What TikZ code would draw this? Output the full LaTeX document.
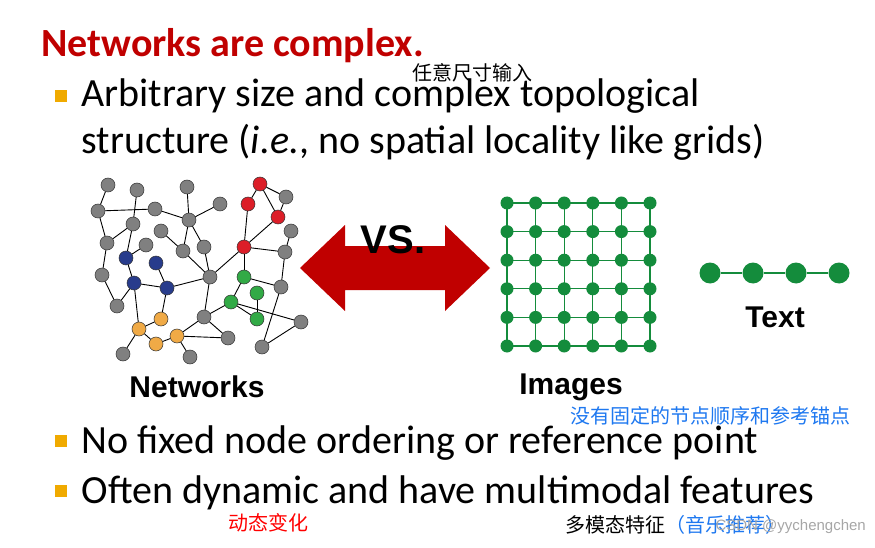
\documentclass[tikz,border=0pt]{standalone}
\usepackage{fontspec}
\setmainfont{Carlito}
\newfontfamily\arial{Liberation Sans}
\newfontfamily\cjk{Noto Sans CJK SC}
\definecolor{ttlred}{RGB}{192,0,0}
\definecolor{bul}{RGB}{240,170,0}
\definecolor{ngray}{RGB}{128,128,128}
\definecolor{nred}{RGB}{220,30,40}
\definecolor{nblue}{RGB}{40,60,140}
\definecolor{ngreen}{RGB}{50,170,70}
\definecolor{norange}{RGB}{240,170,70}
\definecolor{igreen}{RGB}{20,140,60}
\definecolor{cjkblue}{RGB}{30,120,240}
\begin{document}
\begin{tikzpicture}[x=1pt,y=-1pt,
  n/.style={circle,draw=black!80,line width=0.5pt,inner sep=0pt,minimum size=14pt,fill=ngray},
  r/.style={n,fill=nred}, b/.style={n,fill=nblue}, gr/.style={n,fill=ngreen}, o/.style={n,fill=norange},
  ig/.style={circle,fill=igreen,inner sep=0pt,minimum size=13pt},
  tg/.style={circle,fill=igreen,inner sep=0pt,minimum size=21pt},
  bul/.style={fill=bul,minimum size=12pt,inner sep=0pt},
  body/.style={anchor=base west,font=\fontsize{40}{46}\selectfont},
  lab/.style={font=\arial\bfseries\fontsize{30}{34}\selectfont},
  note/.style={font=\cjk\fontsize{20}{22}\selectfont}]
\useasboundingbox (0,0) rectangle (875,548);
\node[anchor=base west,text=ttlred,font=\bfseries\fontsize{40}{46}\selectfont] (title) at (38,57) {Networks are complex.};
\node[bul] (b1) at (61,96) {};
\node[body] (t1) at (78,107) {Arbitrary size and complex topological};
\node[body] (t2) at (78,154) {structure (\textit{i.e.}, no spatial locality like grids)};
\node[note,text=black] (c1) at (472,73) {任意尺寸输入};
% network
\foreach \nm/\st/\x/\y in {g1/n/108/185,g2/n/137/190,g3/n/187/187,r1/r/260/184,g4/n/286/197,r2/r/248/204,
 g5/n/98/211,g6/n/155/209,g7/n/220/204,r3/r/278/217,g8/n/133/224,g9/n/189/220,g10/n/161/231,g11/n/291/231,
 g12/n/107/243,g13/n/146/245,g14/n/183/251,g15/n/204/247,r4/r/244/247,g16/n/285/252,nb1/b/126/258,nb2/b/156/263,
 g17/n/102/275,g18/n/210/277,gr1/gr/244/277,nb3/b/134/283,nb4/b/167/288,g19/n/281/287,gr2/gr/257/293,gr3/gr/231/302,
 g20/n/117/306,g21/n/204/317,o1/o/161/319,gr4/gr/257/319,g22/n/301/322,o2/o/139/329,o3/o/177/336,g23/n/228/338,
 o4/o/156/344,g24/n/262/347,g25/n/123/354,g26/n/190/357}
 \node[\st] (\nm) at (\x,\y) {};
\foreach \a/\bb in {g1/g5,g5/g6,g2/g8,g6/g9,g3/g9,g7/g9,g9/g14,g9/g15,g15/g18,g14/g18,g10/g14,g5/g12,g8/g12,g8/nb1,
 nb1/g13,nb1/nb3,nb2/nb4,nb3/nb4,g12/g17,g17/g20,g20/nb3,nb3/o2,nb4/o1,o1/o2,o2/o4,o4/o3,o2/g25,o3/g26,o3/g21,o3/g23,
 g21/g23,g21/g18,g21/gr3,nb4/g18,g18/r4,r4/r2,r2/r1,r1/g4,r1/r3,g4/r3,r3/r4,r4/g16,g16/g11,g16/g19,r4/gr1,gr1/gr3,
 gr1/g19,gr2/gr4,gr3/gr4,gr3/g22,g22/g24,g19/g24}
 \draw[line width=0.9pt] (\a) -- (\bb);
\node[lab] (netl) at (197,387) {Networks};
% arrow
\node[inner sep=0pt] (al) at (300,268) {};
\node[inner sep=0pt] (ar) at (490,268) {};
\fill[ttlred] (al.center) -- (345,225) -- (345,246) -- (445,246) -- (445,225) -- (ar.center) -- (445,311) -- (445,290) -- (345,290) -- (345,311) -- cycle;
\node[font=\arial\bfseries\fontsize{40}{44}\selectfont] (vs) at (393,240) {VS.};
% grid
\foreach \i in {0,...,5}{
  \draw[igreen,line width=1.3pt] (507,{203+28.6*\i}) -- (650,{203+28.6*\i});
  \draw[igreen,line width=1.3pt] ({507+28.6*\i},203) -- ({507+28.6*\i},346);
  \foreach \j in {0,...,5} \node[ig] (p\i\j) at ({507+28.6*\i},{203+28.6*\j}) {};
}
\node[lab] (imgl) at (571,387) {Images};
\node[tg] (s1) at (710,273) {};
\node[tg] (s2) at (753,273) {};
\node[tg] (s3) at (796,273) {};
\node[tg] (s4) at (839,273) {};
\draw[igreen,line width=2.5pt] (s1) -- (s2) -- (s3) -- (s4);
\node[lab] (txl) at (775,317) {Text};
\node[note,text=cjkblue] (c2) at (710,416) {没有固定的节点顺序和参考锚点};
\node[bul] (b2) at (61,441) {};
\node[body] (t3) at (78,453) {No fixed node ordering or reference point};
\node[bul] (b3) at (61,491) {};
\node[body] (t4) at (78,503) {Often dynamic and have multimodal features};
\node[note,text=red] (c3) at (268,523) {动态变化};
\node[note,anchor=west] (c4) at (562,525) {多模态特征\textcolor{cjkblue}{（音乐推荐）}};
\node[font=\arial\fontsize{15}{16}\selectfont,text=gray!70,anchor=west] (wm) at (712,527) {CSDN @yychengchen};
\end{tikzpicture}
\end{document}
